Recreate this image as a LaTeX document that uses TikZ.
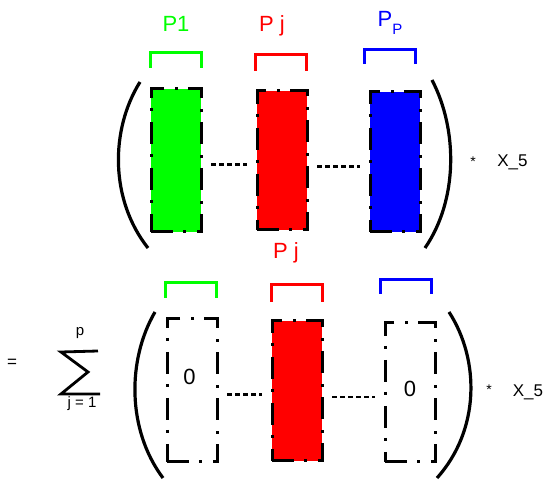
\documentclass[tikz,border=0pt]{standalone}
\usepackage{fontspec}
\setmainfont{Liberation Sans}
\definecolor{pg}{rgb}{0,1,0}
\definecolor{pr}{rgb}{1,0,0}
\definecolor{pb}{rgb}{0,0,1}
\begin{document}
\begin{tikzpicture}[x=1pt,y=-1pt,
  blk/.style={draw=black,line width=3pt,dash pattern=on 22pt off 10pt on 3pt off 11pt,
    minimum width=50pt,inner sep=0pt,outer sep=0pt},
  dots/.style={draw=black,line width=2.7pt,dash pattern=on 5pt off 3pt,shorten >=10pt,shorten <=10pt},
  brk/.style={line width=3pt},
  par/.style={line width=3.2pt},
  lab/.style={font=\fontsize{22}{22}\selectfont,anchor=base,inner sep=0pt},
  mid/.style={font=\fontsize{17}{17}\selectfont,anchor=base,inner sep=0pt},
  sml/.style={font=\fontsize{15}{15}\selectfont,anchor=base,inner sep=0pt}]
\useasboundingbox (0,0) rectangle (550,489);
% top row
\node[blk,fill=pg,minimum height=143pt] (g) at (176,160.5) {};
\node[blk,fill=pr,minimum height=139pt] (r1) at (282,160.5) {};
\node[blk,fill=pb,minimum height=140pt] (b) at (395,162) {};
\draw[dots] ([yshift=-4pt]g.east) -- ([yshift=-4pt]g.east -| r1.west);
\draw[dots] ([yshift=-6pt]r1.east) -- ([yshift=-6pt]r1.east -| b.west);
\draw[brk,pg] (150,68) |- (201,53) -- (201,68);
\draw[brk,pr] (255,71) |- (306,55) -- (306,71);
\draw[brk,pb] (364,64) |- (415,50) -- (415,64);
\node[lab,pg] (l1) at (176,32) {P1};
\node[lab,pr] (l2) at (272,32) {P j};
\node[lab,pb] (l3) at (390,27) {P\raisebox{-8pt}{\fontsize{15}{15}\selectfont P}};
\draw[par] (140,82) .. controls (110,130) and (110,200) .. (148,248);
\draw[par] (432,80) .. controls (458,130) and (458,200) .. (425,248);
\node[font=\fontsize{14}{14}\selectfont,inner sep=0pt] (s1) at (473,162) {*};
\node[mid] (x1) at (512.5,167) {X\_5};
% bottom row
\node[font=\fontsize{17}{17}\selectfont,inner sep=0pt] (eq) at (12,363) {=};
\draw[line width=2.8pt,line join=miter] (98,351) -- (61,352) -- (88,372) -- (61,394) -- (100,394);
\node[sml] (pp) at (80,336) {p};
\node[sml] (jj) at (82,408) {j = 1};
\node[blk,minimum height=143pt] (z1) at (192,390.5) {};
\node[blk,fill=pr,minimum height=140pt] (r2) at (297,391) {};
\node[blk,minimum height=139pt] (z2) at (410,392.5) {};
\node[lab] (o1) at (189.5,385) {0};
\node[lab] (o2) at (410,397) {0};
\draw[dots] ([yshift=-4pt]z1.east) -- ([yshift=-4pt]z1.east -| r2.west);
\draw[dots] ([yshift=-6pt]r2.east) -- ([yshift=-6pt]r2.east -| z2.west);
\draw[brk,pg] (165,298) |- (216,283) -- (216,298);
\draw[brk,pr] (271,302) |- (322,285) -- (322,302);
\draw[brk,pb] (380,294) |- (431,280) -- (431,294);
\node[lab,pr] (l4) at (286,259) {P j};
\draw[par] (155,312) .. controls (127,360) and (127,430) .. (163,478);
\draw[par] (449,312) .. controls (480,360) and (480,430) .. (437,478);
\node[font=\fontsize{14}{14}\selectfont,inner sep=0pt] (s2) at (489,390) {*};
\node[mid] (x2) at (528,397) {X\_5};
\end{tikzpicture}
\end{document}
